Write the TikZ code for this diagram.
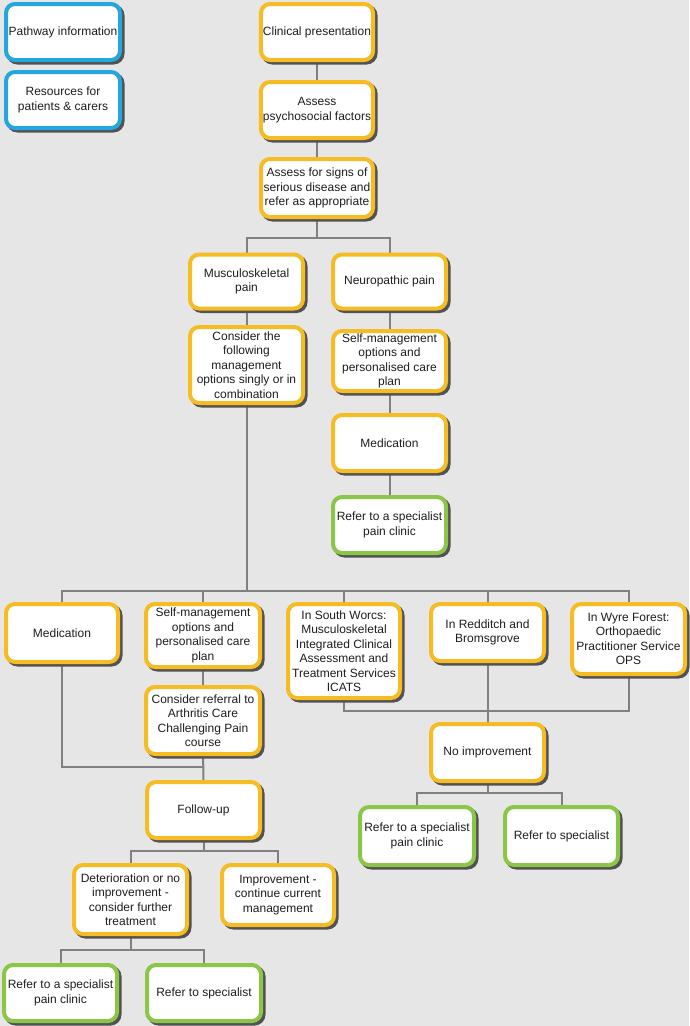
\documentclass[tikz,border=0pt]{standalone}
\usepackage{fontspec}
\setmainfont{Liberation Sans}
\usetikzlibrary{shadows}
\definecolor{bgc}{RGB}{230,230,230}
\definecolor{yel}{RGB}{245,188,35}
\definecolor{blu}{RGB}{38,166,222}
\definecolor{grn}{RGB}{140,198,72}
\definecolor{lnc}{RGB}{128,128,128}
\definecolor{txc}{RGB}{30,30,30}
\pgfdeclarelayer{bg}
\pgfsetlayers{bg,main}
\tikzset{
  box/.style={line width=4pt, rounded corners=9pt, fill=white, align=center,
    inner sep=2pt, text=txc, font=\fontsize{12}{14.5}\selectfont,
    drop shadow={shadow xshift=2.5pt, shadow yshift=-2.5pt, opacity=1,
      fill=black!68, draw=black!68, line width=4pt}},
  ybox/.style={box, draw=yel},
  bbox/.style={box, draw=blu},
  gbox/.style={box, draw=grn},
  sz/.style 2 args={minimum width={#1-4}, minimum height={#2-4}},
  conn/.style={draw=lnc, line width=2pt}
}
\begin{document}
\begin{tikzpicture}[x=1pt,y=-1pt]
\useasboundingbox (0,0) rectangle (689,1026);
% nodes
\node[bbox, sz={118}{60}] (path) at (63,32) {Pathway information};
\node[bbox, sz={118}{60}] (res) at (63,100) {Resources for\\patients \& carers};
\node[ybox, sz={116}{60}] (clin) at (317,32) {Clinical presentation};
\node[ybox, sz={116}{60}] (psy) at (317,110) {Assess\\psychosocial factors};
\node[ybox, sz={116}{62}] (sig) at (317,188) {Assess for signs of\\serious disease and\\refer as appropriate};
\node[ybox, sz={117}{58}] (msk) at (246.5,281.5) {Musculoskeletal\\pain};
\node[ybox, sz={117}{58}] (neu) at (389.5,281.5) {Neuropathic pain};
\node[ybox, sz={117}{80}] (cons) at (246.5,365) {Consider the\\following\\management\\options singly or in\\combination};
\node[ybox, sz={117}{64}] (selfR) at (389.5,361) {Self-management\\options and\\personalised care\\plan};
\node[ybox, sz={117}{60}] (medR) at (389.5,443) {Medication};
\node[gbox, sz={117}{60}] (refR) at (389.5,525) {Refer to a specialist\\pain clinic};
\node[ybox, sz={116}{62}] (medL) at (62,633) {Medication};
\node[ybox, sz={118}{67}] (selfL) at (203,635.5) {Self-management\\options and\\personalised care\\plan};
\node[ybox, sz={118}{71}] (crefer) at (203,720.5) {Consider referral to\\Arthritis Care\\Challenging Pain\\course};
\node[ybox, sz={116}{98}] (south) at (344,651) {In South Worcs:\\Musculoskeletal\\Integrated Clinical\\Assessment and\\Treatment Services\\ICATS};
\node[ybox, sz={117}{61}] (red) at (487.5,632.5) {In Redditch and\\Bromsgrove};
\node[ybox, sz={117}{74}] (wyre) at (628.5,639) {In Wyre Forest:\\Orthopaedic\\Practitioner Service\\OPS};
\node[ybox, sz={117}{61}] (noimp) at (487.5,752.5) {No improvement};
\node[gbox, sz={118}{62}] (refPC2) at (417,836) {Refer to a specialist\\pain clinic};
\node[gbox, sz={117}{62}] (refS2) at (561.5,836) {Refer to specialist};
\node[ybox, sz={117}{60}] (follow) at (203.5,810) {Follow-up};
\node[ybox, sz={117}{73}] (det) at (130.5,899.5) {Deterioration or no\\improvement -\\consider further\\treatment};
\node[ybox, sz={116}{64}] (imp) at (278,895) {Improvement -\\continue current\\management};
\node[gbox, sz={117}{60}] (refPC3) at (60.5,993) {Refer to a specialist\\pain clinic};
\node[gbox, sz={118}{60}] (refS3) at (204,993) {Refer to specialist};
% junctions
\coordinate (j1) at (317,238);
\coordinate (j2) at (246.5,591);
\coordinate (j3) at (203.5,767);
\coordinate (j4) at (487.5,711);
\coordinate (j5) at (487.5,793);
\coordinate (j6) at (203.5,851);
\coordinate (j7) at (130.5,950);
\begin{pgfonlayer}{bg}
\fill[bgc] (0,0) rectangle (689,1026);
\draw[conn] (clin) -- (psy);
\draw[conn] (psy) -- (sig);
\draw[conn] (sig) -- (j1);
\draw[conn] (msk.north) |- (j1) -| (neu.north);
\draw[conn] (msk) -- (cons);
\draw[conn] (neu) -- (selfR);
\draw[conn] (selfR) -- (medR);
\draw[conn] (medR) -- (refR);
\draw[conn] (cons) -- (j2);
\draw[conn] (medL.north) |- (j2) -| (wyre.north);
\draw[conn] (selfL.north) |- (j2);
\draw[conn] (south.north) |- (j2);
\draw[conn] (red.north) |- (j2);
\draw[conn] (selfL) -- (crefer);
\draw[conn] (medL.south) |- (j3);
\draw[conn] (crefer) -- (follow);
\draw[conn] (south.south) |- (j4) -| (wyre.south);
\draw[conn] (red) -- (noimp);
\draw[conn] (noimp) -- (j5);
\draw[conn] (refPC2.north) |- (j5) -| (refS2.north);
\draw[conn] (follow) -- (j6);
\draw[conn] (det.north) |- (j6) -| (imp.north);
\draw[conn] (det) -- (j7);
\draw[conn] (refPC3.north) |- (j7) -| (refS3.north);
\end{pgfonlayer}
\end{tikzpicture}
\end{document}
